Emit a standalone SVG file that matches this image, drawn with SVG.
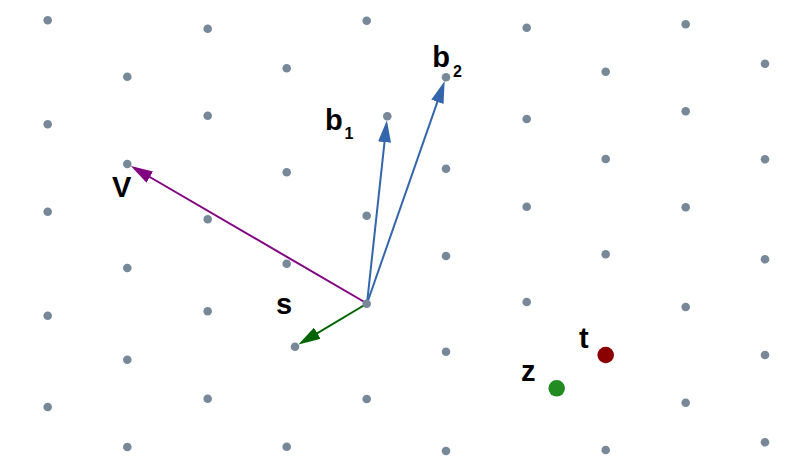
<svg xmlns="http://www.w3.org/2000/svg" width="787" height="460" viewBox="0 0 787 460">
<style>
.pt{fill:#778899}
.lbl{font-family:"Liberation Sans",Arial,sans-serif;font-weight:bold;font-size:29px;fill:#000}
.sub{font-family:"Liberation Sans",Arial,sans-serif;font-weight:bold;font-size:16px;fill:#000}
.vec{fill:none;stroke-width:2}
</style>
<defs>
<marker id="ahB" markerUnits="userSpaceOnUse" viewBox="0 0 22 13" markerWidth="22" markerHeight="13" refX="10" refY="6.5" orient="auto"><path d="M0,0 L22,6.5 L0,13 z" fill="#3366aa"/></marker>
<marker id="ahP" markerUnits="userSpaceOnUse" viewBox="0 0 22 13" markerWidth="22" markerHeight="13" refX="10" refY="6.5" orient="auto"><path d="M0,0 L22,6.5 L0,13 z" fill="#800080"/></marker>
<marker id="ahG" markerUnits="userSpaceOnUse" viewBox="0 0 22 13" markerWidth="22" markerHeight="13" refX="10" refY="6.5" orient="auto"><path d="M0,0 L22,6.5 L0,13 z" fill="#006400"/></marker>
</defs>
<rect width="787" height="460" fill="#fff"/>
<g id="connectors">
<line class="vec" stroke="#800080" x1="367" y1="303.5" x2="141.2" y2="172" marker-end="url(#ahP)"/>
<line class="vec" stroke="#3366aa" x1="367" y1="303.5" x2="385.6" y2="132.2" marker-end="url(#ahB)"/>
<line class="vec" stroke="#3366aa" x1="367" y1="303.5" x2="440.7" y2="92.4" marker-end="url(#ahB)"/>
<line class="vec" stroke="#006400" x1="367" y1="303.5" x2="308.7" y2="338.4" marker-end="url(#ahG)"/>
</g>
<g id="lattice">
<circle class="pt" cx="47.7" cy="20.3" r="4.3"/>
<circle class="pt" cx="207.7" cy="28.7" r="4.3"/>
<circle class="pt" cx="366.7" cy="20.7" r="4.3"/>
<circle class="pt" cx="127.3" cy="76.7" r="4.3"/>
<circle class="pt" cx="286.7" cy="68.3" r="4.3"/>
<circle class="pt" cx="47.7" cy="124.3" r="4.3"/>
<circle class="pt" cx="207.7" cy="115.7" r="4.3"/>
<circle class="pt" cx="387.3" cy="116.3" r="4.3"/>
<circle class="pt" cx="127.3" cy="164" r="4.3"/>
<circle class="pt" cx="286.7" cy="172.3" r="4.3"/>
<circle class="pt" cx="47.7" cy="211.7" r="4.3"/>
<circle class="pt" cx="207.7" cy="219.3" r="4.3"/>
<circle class="pt" cx="366.7" cy="215.7" r="4.3"/>
<circle class="pt" cx="526.7" cy="27.7" r="4.3"/>
<circle class="pt" cx="685.7" cy="24.3" r="4.3"/>
<circle class="pt" cx="446" cy="77.3" r="4.3"/>
<circle class="pt" cx="605.7" cy="71.7" r="4.3"/>
<circle class="pt" cx="765" cy="63.7" r="4.3"/>
<circle class="pt" cx="526.7" cy="119" r="4.3"/>
<circle class="pt" cx="685.7" cy="111.3" r="4.3"/>
<circle class="pt" cx="446" cy="168.7" r="4.3"/>
<circle class="pt" cx="605.7" cy="159" r="4.3"/>
<circle class="pt" cx="765" cy="159.3" r="4.3"/>
<circle class="pt" cx="526.7" cy="206.7" r="4.3"/>
<circle class="pt" cx="685.7" cy="207.3" r="4.3"/>
<circle class="pt" cx="127.3" cy="268" r="4.3"/>
<circle class="pt" cx="286.7" cy="263.7" r="4.3"/>
<circle class="pt" cx="366.7" cy="303.7" r="4.3"/>
<circle class="pt" cx="47.7" cy="315.7" r="4.3"/>
<circle class="pt" cx="207.7" cy="311.3" r="4.3"/>
<circle class="pt" cx="295" cy="346.7" r="4.3"/>
<circle class="pt" cx="127.3" cy="359.7" r="4.3"/>
<circle class="pt" cx="47.7" cy="407" r="4.3"/>
<circle class="pt" cx="207.7" cy="398.7" r="4.3"/>
<circle class="pt" cx="366.7" cy="399" r="4.3"/>
<circle class="pt" cx="127.3" cy="447" r="4.3"/>
<circle class="pt" cx="286.7" cy="446.7" r="4.3"/>
<circle class="pt" cx="446" cy="256" r="4.3"/>
<circle class="pt" cx="605.7" cy="254.3" r="4.3"/>
<circle class="pt" cx="765" cy="259.3" r="4.3"/>
<circle class="pt" cx="526.7" cy="302" r="4.3"/>
<circle class="pt" cx="685.7" cy="307" r="4.3"/>
<circle class="pt" cx="446" cy="351.7" r="4.3"/>
<circle class="pt" cx="765" cy="355" r="4.3"/>
<circle class="pt" cx="685.7" cy="402.7" r="4.3"/>
<circle class="pt" cx="446" cy="451" r="4.3"/>
<circle class="pt" cx="605.7" cy="450" r="4.3"/>
<circle class="pt" cx="765" cy="442.3" r="4.3"/>
</g>
<g id="t"><circle cx="605.7" cy="355" r="8.3" fill="#8b0000"/><text class="lbl" x="579" y="348">t</text></g>
<g id="z"><circle cx="556.7" cy="388.3" r="8.3" fill="#228b22"/><text class="lbl" x="521" y="381">z</text></g>
<g id="b1"><text class="lbl" x="325" y="129.7">b</text><text class="sub" x="344.5" y="139.3">1</text></g>
<g id="b2"><text class="lbl" x="432.3" y="66.7">b</text><text class="sub" x="453" y="77">2</text></g>
<g id="v"><text class="lbl" x="112" y="196.7">V</text></g>
<g id="s"><text class="lbl" x="276" y="314.3">s</text></g>
</svg>
